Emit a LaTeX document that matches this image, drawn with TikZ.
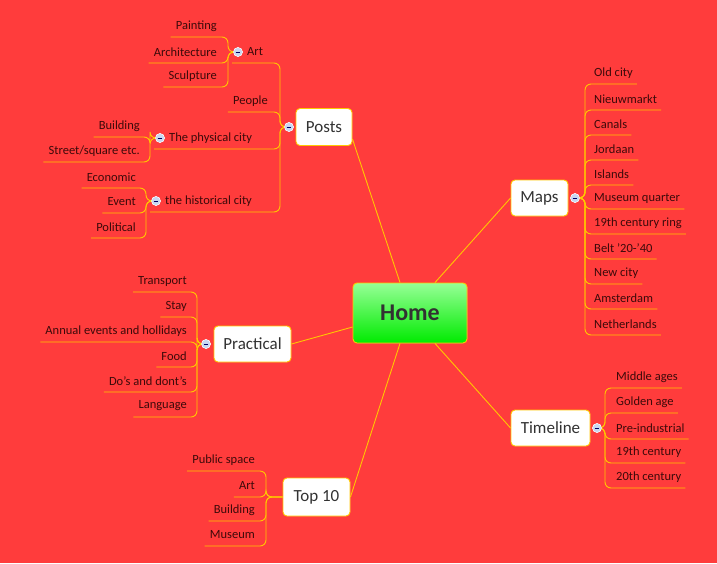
\documentclass[tikz,border=0pt]{standalone}
\usepackage{fontspec}
\setmainfont{Carlito}
\definecolor{bgc}{RGB}{255,60,60}
\definecolor{linkc}{RGB}{255,200,0}
\definecolor{leafc}{RGB}{60,10,10}
\definecolor{topc}{RGB}{50,50,50}
\definecolor{collc}{RGB}{200,215,240}
\definecolor{hometop}{RGB}{150,255,150}
\definecolor{homebot}{RGB}{0,235,0}
\newcommand\leafR[6]{%
 \node[leaf,anchor=west] (#1) at (#2,#3) {#4};
 \coordinate (#1u) at (#2,{#3+11});
 \draw[link,rounded corners=6pt] (#6) -- (#5) -- (#1u -| #5) -- ([xshift=4pt]#1.east |- #1u);}
\newcommand\leafL[6]{%
 \node[leaf,anchor=east] (#1) at (#2,#3) {#4};
 \coordinate (#1u) at (#2,{#3+11});
 \draw[link,rounded corners=6pt] (#6) -- (#5) -- (#1u -| #5) -- ([xshift=-5pt]#1.west |- #1u);}
\newcommand\subL[7]{% name, circle x, y, text, parent trunk, parent, own trunk x
 \node[coll] (#1c) at (#2,#3) {};
 \node[leaf,anchor=west] (#1) at ({#2+9},#3) {#4};
 \coordinate (#1u) at (#2,{#3+11});
 \coordinate (#1t) at (#7,#3);
 \draw[link,rounded corners=6pt] (#6) -- (#5) -- (#1u -| #5) -- ([xshift=-6pt]#1u);}
\begin{document}
\begin{tikzpicture}[x=1pt,y=-1pt,
 leaf/.style={inner sep=0pt,text=leafc,font=\fontsize{12.5}{14}\selectfont},
 link/.style={draw=linkc,line width=0.9pt},
 topic/.style={draw=linkc,line width=0.9pt,fill=white,rounded corners=4pt,text=topc,
   font=\fontsize{17}{19}\selectfont,inner sep=0pt},
 coll/.style={circle,fill=collc,draw=white,line width=0.4pt,minimum size=9pt,inner sep=0pt,
   path picture={\draw[line width=0.9pt,black!60!blue] ([xshift=-2.3pt]path picture bounding box.center) -- ([xshift=2.3pt]path picture bounding box.center);}}]
\fill[bgc] (0,0) rectangle (717,563);
\useasboundingbox (0,0) rectangle (717,563);
\node[topic,minimum width=114pt,minimum height=60pt,top color=hometop,bottom color=homebot,font=\fontsize{24}{26}\selectfont\bfseries] (home) at (410,313) {Home};
\node[topic,minimum width=56pt,minimum height=37pt] (posts) at (324,127) {Posts};
\node[topic,minimum width=57pt,minimum height=36pt] (maps) at (539.5,198) {Maps};
\node[topic,minimum width=77pt,minimum height=36pt] (practical) at (252.5,344) {Practical};
\node[topic,minimum width=79pt,minimum height=36pt] (timeline) at (550.5,428) {Timeline};
\node[topic,minimum width=67pt,minimum height=38pt] (top) at (316.5,497) {Top 10};
\draw[link] ([yshift=-12pt]posts.east) -- ([xshift=-10pt]home.north);
\draw[link] (maps.west) -- ([xshift=25pt]home.north);
\draw[link] (practical.east) -- ([yshift=-14pt]home.west);
\draw[link] (timeline.west) -- ([xshift=25pt]home.south);
\draw[link] (top.east) -- ([xshift=-10pt]home.south);
% Maps
\node[coll] (cm) at (575,198) {};
\coordinate (tm) at (585,198);
\leafR{m1}{594}{73}{Old city}{tm}{cm}
\leafR{m2}{594}{99}{Nieuwmarkt}{tm}{cm}
\leafR{m3}{594}{124}{Canals}{tm}{cm}
\leafR{m4}{594}{149}{Jordaan}{tm}{cm}
\leafR{m5}{594}{174}{Islands}{tm}{cm}
\leafR{m6}{594}{198}{Museum quarter}{tm}{cm}
\leafR{m7}{594}{223}{19th century ring}{tm}{cm}
\leafR{m8}{594}{248}{Belt '20-'40}{tm}{cm}
\leafR{m9}{594}{273}{New city}{tm}{cm}
\leafR{m10}{594}{298}{Amsterdam}{tm}{cm}
\leafR{m11}{594}{324}{Netherlands}{tm}{cm}
% Timeline
\node[coll] (ct) at (597,428) {};
\coordinate (tt) at (605,428);
\leafR{t1}{616}{377}{Middle ages}{tt}{ct}
\leafR{t2}{616}{402}{Golden age}{tt}{ct}
\leafR{t3}{616}{428}{Pre-industrial}{tt}{ct}
\leafR{t4}{616}{452}{19th century}{tt}{ct}
\leafR{t5}{616}{477}{20th century}{tt}{ct}
% Practical
\node[coll] (cpr) at (206,344) {};
\coordinate (tpr) at (197,344);
\leafL{p1}{187}{281}{Transport}{tpr}{cpr}
\leafL{p2}{187}{306}{Stay}{tpr}{cpr}
\leafL{p3}{187}{331}{Annual events and hollidays}{tpr}{cpr}
\leafL{p4}{187}{356}{Food}{tpr}{cpr}
\leafL{p5}{187}{381}{Do's and dont's}{tpr}{cpr}
\leafL{p6}{187}{406}{Language}{tpr}{cpr}
% Top 10
\coordinate (ctop) at (top.west);
\coordinate (ttop) at (266,497);
\leafL{q1}{255}{460}{Public space}{ttop}{ctop}
\leafL{q2}{255}{486}{Art}{ttop}{ctop}
\leafL{q3}{255}{510}{Building}{ttop}{ctop}
\leafL{q4}{255}{535}{Museum}{ttop}{ctop}
% Posts
\node[coll] (cp) at (289,127) {};
\coordinate (tp) at (280,127);
\subL{art}{238}{52}{Art}{tp}{cp}{228}
\leafL{people}{268}{101}{People}{tp}{cp}
\subL{phys}{160}{138}{The physical city}{tp}{cp}{150}
\subL{hist}{156}{201}{the historical city}{tp}{cp}{146}
\leafL{a1}{217}{26}{Painting}{artt}{artc}
\leafL{a2}{217}{52}{Architecture}{artt}{artc}
\leafL{a3}{217}{76}{Sculpture}{artt}{artc}
\leafL{b1}{140}{126}{Building}{physt}{physc}
\leafL{b2}{140}{151}{Street/square etc.}{physt}{physc}
\leafL{h1}{136}{177}{Economic}{histt}{histc}
\leafL{h2}{136}{202}{Event}{histt}{histc}
\leafL{h3}{136}{227}{Political}{histt}{histc}
\node[coll] at (cp) {};
\node[coll] at (artc) {};
\node[coll] at (physc) {};
\node[coll] at (histc) {};
\node[coll] at (cm) {};
\node[coll] at (ct) {};
\node[coll] at (cpr) {};
\end{tikzpicture}
\end{document}
